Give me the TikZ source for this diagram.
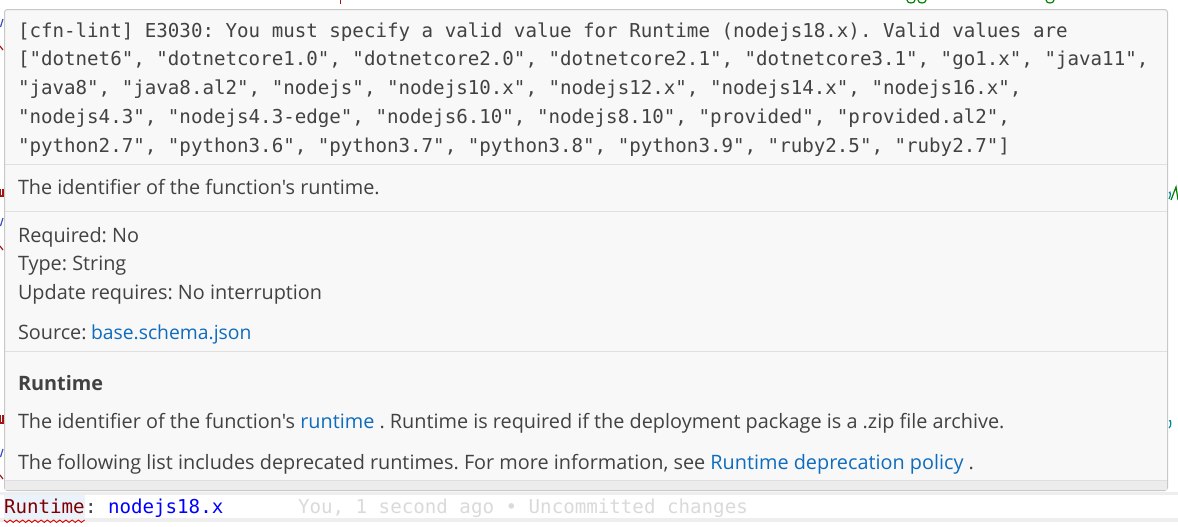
\documentclass[tikz,border=0pt]{standalone}
\usepackage{fontspec}
\newfontfamily\bodyface{Open Sans}
\newfontfamily\monoface{DejaVu Sans Mono}
\frenchspacing
\definecolor{paneltext}{HTML}{424242}
\definecolor{panelbg}{HTML}{F8F8F8}
\definecolor{panelborder}{HTML}{C8C8C8}
\definecolor{divider}{HTML}{DFDFDF}
\definecolor{footband}{HTML}{ECECEC}
\definecolor{linkblue}{HTML}{0F6CBD}
\definecolor{keyred}{HTML}{800000}
\definecolor{valblue}{HTML}{0000FF}
\definecolor{ghost}{HTML}{DADADA}
\definecolor{rowgrey}{HTML}{EEEEEE}
\definecolor{wordhl}{HTML}{EAF2FB}
\definecolor{fragred}{HTML}{A31515}
\definecolor{fragblue}{HTML}{3A4FC0}
\definecolor{fraggreen}{HTML}{008000}
\definecolor{fragteal}{HTML}{0088A0}
\tikzset{
  x=0.75pt,y=-0.75pt,
  mono/.style={anchor=base west,inner sep=0,outer sep=0,text=paneltext,font=\frenchspacing\monoface\fontsize{14.37pt}{17pt}\selectfont},
  body/.style={anchor=base west,inner sep=0,outer sep=0,text=paneltext,font=\frenchspacing\bodyface\fontsize{14.88pt}{18pt}\selectfont},
  code/.style={anchor=base west,inner sep=0,outer sep=0,font=\frenchspacing\monoface\fontsize{14.37pt}{17pt}\selectfont},
  rule/.style={draw=divider,line width=0.75pt},
  frag/.style={line width=0.9pt},
}
\begin{document}
\begin{tikzpicture}
\useasboundingbox (0,0) rectangle (1178,526);
\fill[white] (0,0) rectangle (1178,526);
% editor rows
\fill[rowgrey] (0,492) rectangle (1178,495);
\fill[rowgrey] (0,518) rectangle (1178,522);
\fill[wordhl] (4,495) rectangle (85,518);
% clipped code visible round the panel
\draw[frag,fragred] (340.8,0) -- (340.8,3.5);
\draw[frag,fraggreen] (907,0) .. controls (907,4) and (915,4) .. (915,0);
\draw[frag,fraggreen] (918,0) .. controls (918,4) and (926,4) .. (926,0);
\draw[frag,fraggreen] (1046,0) .. controls (1046,4) and (1054,4) .. (1054,0);
\draw[frag,fragblue] (0.5,27) -- (3,19);
\draw[frag,fragred] (0,46) -- (3,50);
\draw[frag,fragred] (0.5,189) -- (0.5,196) -- (3,196) -- (3,189);
\draw[frag,fragblue] (0.5,226) -- (3,218);
\draw[frag,fragred] (0,246) -- (3,250);
\draw[frag,fragred] (0.5,415) -- (0.5,423) -- (3,423) -- (3,415);
\draw[frag,fragblue] (0.5,457) -- (3,449);
\draw[frag,fragred] (0,475) -- (3,479);
\draw[frag,fragteal] (1169,193) .. controls (1170.5,190) and (1171,196) .. (1169,199);
\draw[frag,fraggreen] (1171,200) -- (1176,187) -- (1178,200);
\draw[frag,fragteal] (1169,421) .. controls (1171.5,418) and (1171.5,427) .. (1169,428);
% panel
\path[fill=panelbg,draw=panelborder,line width=0.75pt,rounded corners=2.2pt] (4.5,9.5) rectangle (1167.5,490.5);
\fill[footband] (5,480) rectangle (1167,490);
\draw[rule] (5,480) -- (1167,480);
\draw[rule] (5,164.5) -- (1167,164.5);
\draw[rule] (5,211.5) -- (1167,211.5);
\draw[rule] (5,351.5) -- (1167,351.5);
% message
\node[mono] (m1) at (18,37) {[cfn-lint] E3030: You must specify a valid value for Runtime (nodejs18.x). Valid values are};
\node[mono] (m2) at (18,65.8) {["dotnet6", "dotnetcore1.0", "dotnetcore2.0", "dotnetcore2.1", "dotnetcore3.1", "go1.x", "java11",};
\node[mono] (m3) at (18,94.6) {"java8", "java8.al2", "nodejs", "nodejs10.x", "nodejs12.x", "nodejs14.x", "nodejs16.x",};
\node[mono] (m4) at (18,123.4) {"nodejs4.3", "nodejs4.3-edge", "nodejs6.10", "nodejs8.10", "provided", "provided.al2",};
\node[mono] (m5) at (18,152.2) {"python2.7", "python3.6", "python3.7", "python3.8", "python3.9", "ruby2.5", "ruby2.7"]};
% doc
\node[body] (d1) at (18,194) {The identifier of the function's runtime.};
\node[body] (p1) at (18,242) {Required: No};
\node[body] (p2) at (18,270.5) {Type: String};
\node[body] (p3) at (18,299) {Update requires: No interruption};
\node[body] (s1) at (18,339) {Source:};
\node[body,text=linkblue,font=\bodyface\fontsize{14.5pt}{18pt}\selectfont] (s2) at (91,339) {base.schema.json};
\node[body,font=\bodyface\bfseries\fontsize{14.88pt}{18pt}\selectfont] (h1) at (18,390) {Runtime};
\node[body] (t1) at (18,428) {The identifier of the function's \textcolor{linkblue}{runtime} . Runtime is required if the deployment package is a .zip file archive.};
\node[body] (t2) at (18,469) {The following list includes deprecated runtimes. For more information, see \textcolor{linkblue}{Runtime deprecation policy} .};
% editor line
\node[code,text=keyred] (key) at (4,513) {Runtime};
\node[code,text=paneltext] (col) at (85,513) {:};
\node[code,text=valblue] (val) at (108,513) {nodejs18.x};
\node[code,text=ghost] (blame) at (298,513) {You, 1 second ago • Uncommitted changes};
\draw[red!85!black,line width=0.7pt,line join=round] (4,520) \foreach \i in {0,...,12} { -- ++(3,2.4) -- ++(3.2,-2.4) };
\end{tikzpicture}
\end{document}
